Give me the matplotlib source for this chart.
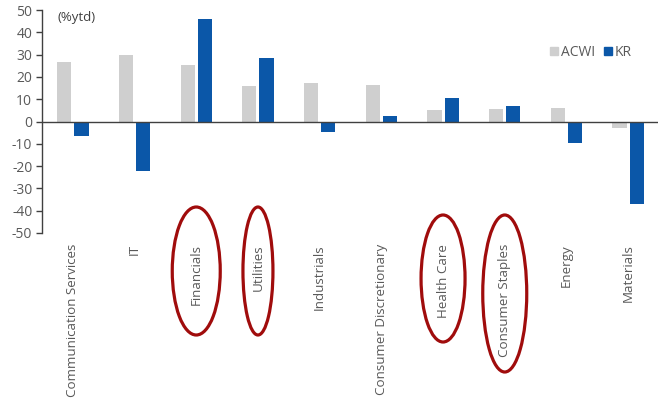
import matplotlib
matplotlib.use("Agg")
import matplotlib.pyplot as plt
import numpy as np
from matplotlib.patches import Ellipse
from matplotlib.lines import Line2D

plt.rcParams['font.family'] = ['Open Sans', 'DejaVu Sans']

categories = ["Communication Services", "IT", "Financials", "Utilities", "Industrials",
              "Consumer Discretionary", "Health Care", "Consumer Staples", "Energy", "Materials"]
acwi = [26.8, 30.0, 25.5, 15.9, 17.1, 16.4, 5.2, 5.7, 6.1, -2.9]
kr = [-6.6, -22.2, 46.0, 28.6, -4.7, 2.6, 10.5, 6.8, -9.5, -36.9]
series_names = ["ACWI", "KR"]
highlighted = ["Financials", "Utilities", "Health Care", "Consumer Staples"]
yticks = list(range(-50, 51, 10))

c_acwi = "#CFCFCF"
c_kr = "#0B57A8"
txt = "#595959"
red = "#A00C0C"

W, H, DPI = 658, 399, 100
fig = plt.figure(figsize=(W / DPI, H / DPI), dpi=DPI)
ax = fig.add_axes([42 / W, 1 - 233 / H, (659 - 42) / W, (233 - 10) / H])

x = np.arange(len(categories))
bw = 0.23
off = 0.14
ax.bar(x - off, acwi, bw, color=c_acwi, label=series_names[0], zorder=2)
ax.bar(x + off, kr, bw, color=c_kr, label=series_names[1], zorder=2)
ax.axhline(0, color="#404040", lw=1.0, zorder=3)

ax.set_xlim(-0.5, len(categories) - 0.5)
ax.set_ylim(-50, 50)
ax.set_yticks(yticks)
ax.set_yticklabels([str(v) for v in yticks], fontsize=10, color=txt)
ax.tick_params(axis='y', direction='out', length=4, width=1, color="#404040", pad=3)
ax.set_xticks(x)
ax.set_xticklabels(categories, rotation=90, fontsize=9.6, color=txt, va='top', ha='center')
ax.tick_params(axis='x', length=0, pad=8)
for s in ["top", "right", "bottom"]:
    ax.spines[s].set_visible(False)
ax.spines["left"].set_color("#404040")
ax.spines["left"].set_linewidth(1.0)

ax.text(15 / 617, 0.965, "(%ytd)", transform=ax.transAxes, fontsize=9.5, color="#404040",
        ha='left', va='center')

handles = [Line2D([], [], marker='s', ls='none', markersize=6, color=c_acwi),
           Line2D([], [], marker='s', ls='none', markersize=6, color=c_kr)]
ax.legend(handles, series_names, loc='center right', bbox_to_anchor=(0.965, 0.81), ncol=2,
          frameon=False, fontsize=10, labelcolor=txt, handlelength=0.6, handletextpad=0.2,
          columnspacing=0.6, borderaxespad=0)

# ellipses around highlighted labels (pixel geometry)
ell_geom = {"Financials": (271, 48, 128), "Utilities": (271, 30, 128),
            "Health Care": (278.5, 44, 127), "Consumer Staples": (293.5, 44, 157)}
fig.canvas.draw()
for name in highlighted:
    i = categories.index(name)
    xc = ax.transData.transform((i, 0))[0]
    yc_pix, w, h = ell_geom[name]
    e = Ellipse((xc, H - yc_pix), w, h, fill=False, edgecolor=red, lw=2.3,
                transform=None)
    fig.patches.append(e)
    e.set_figure(fig)

fig.savefig("out.png", dpi=DPI)
